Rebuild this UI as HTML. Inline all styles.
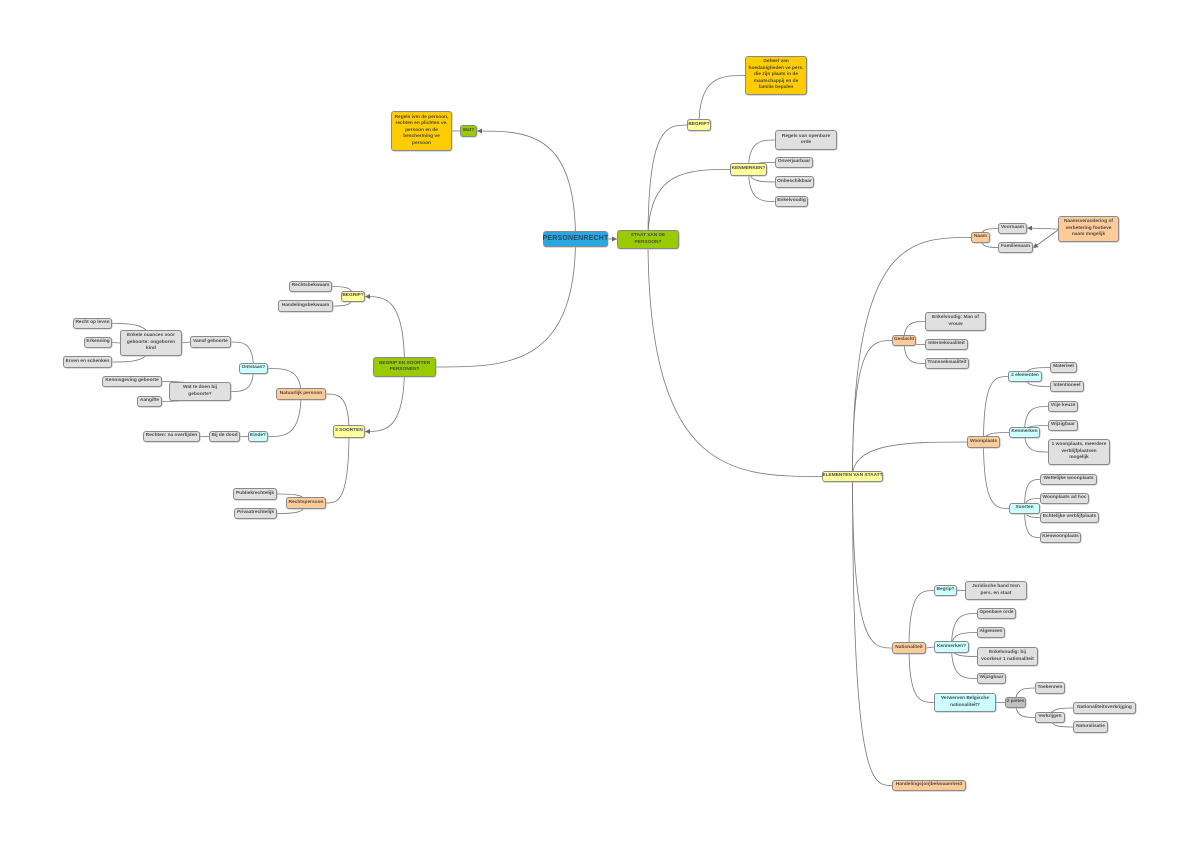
<!DOCTYPE html>
<html><head><meta charset="utf-8"><style>
html,body{margin:0;padding:0;background:#fff;}
#c{position:relative;width:1200px;height:848px;overflow:hidden;background:#fff;}
svg{position:absolute;left:0;top:0;}
.n{position:absolute;box-sizing:border-box;border:1px solid #8a8a8a;border-radius:3px;display:flex;align-items:center;justify-content:center;text-align:center;font-family:"Liberation Sans",sans-serif;font-weight:bold;font-size:4.8px;line-height:6.5px;color:#4a4a4a;background:#e0e0e0;padding:0 1px;box-shadow:0.5px 0.5px 0 #bbb;}
.one{white-space:nowrap;}
.b{background:#29a8e0;color:#2a4a6a;font-size:7px;letter-spacing:0.2px;}
.g{background:#99cc00;}
.o{background:#ffcc00;}
.y{background:#ffff99;}
.p{background:#ffcc99;}
.c{background:#ccffff;}
.d{background:#c0c0c0;}
</style></head><body><div id="c">
<svg width="1200" height="848" id="s"></svg>
<div id="nodes"></div>
</div>
<script>
var N={
PR:[543,231,65,16,"PERSONENRECHT","b"],
ST:[617,230,62,19,"STAAT VAN DE<br>PERSOON?","g"],
WAT:[460,125,17,12,"Wat?","g"],
REG:[391,111,61,40,"Regels ivm de persoon,<br>rechten en plichten ve.<br>persoon en de<br>bescherming ve<br>persoon","o"],
BG1:[687,119,24,12,"BEGRIP?","y"],
GEH:[745,56,62,39,"Geheel van<br>hoedanigheden ve pers.<br>die zijn plaats in de<br>maatschappij en de<br>familie bepalen","o"],
KEN:[730,163,37,13,"KENMERKEN?","y"],
K1:[775,130,62,20,"Regels van openbare<br>orde",""],
K2:[775,157,38,11,"Onverjaarbaar",""],
K3:[775,176,39,12,"Onbeschikbaar",""],
K4:[775,196,33,11,"Enkelvoudig",""],
BS:[373,357,63,20,"BEGRIP EN SOORTEN<br>PERSONEN?","g"],
BG2:[341,291,24,11,"BEGRIP?","y"],
RB:[289,281,43,11,"Rechtsbekwaam",""],
HB:[278,300,55,12,"Handelingsbekwaam",""],
SO:[333,425,32,13,"2 SOORTEN","y"],
NP:[276,388,50,12,"Natuurlijk persoon","p"],
RP:[286,497,40,12,"Rechtspersoon","p"],
PU:[233,488,44,12,"Publiekrechtelijk",""],
PV:[234,508,43,11,"Privaatrechtelijk",""],
ON:[239,363,29,11,"Ontstaan?","c"],
EI:[248,431,20,11,"Einde?","c"],
VG:[190,336,41,12,"Vanaf geboorte",""],
EN:[120,330,62,26,"Enkele nuances voor<br>geboorte: ongeboren<br>kind",""],
RL:[73,318,39,11,"Recht op leven",""],
ER:[84,337,28,11,"Erkenning",""],
ES:[63,356,49,12,"Erven en schenken",""],
WD:[169,382,62,19,"Wat te doen bij<br>geboorte?",""],
KG:[102,376,60,11,"Kennisgeving geboorte",""],
AG:[137,396,25,11,"Aangifte",""],
BD:[209,431,31,11,"Bij de dood",""],
RN:[143,431,57,11,"Rechten: na overlijden",""],
EL:[822,471,61,11,"ELEMENTEN VAN STAAT?","y"],
NA:[971,232,19,11,"Naam","p"],
VN:[998,223,29,11,"Voornaam",""],
FN:[998,242,35,11,"Familienaam",""],
NV:[1058,216,61,26,"Naamsverandering of<br>verbetering foutieve<br>naam mogelijk","p"],
GE:[892,335,24,11,"Geslacht","p"],
G1:[925,312,61,19,"Enkelvoudig: Man of<br>vrouw",""],
G2:[925,339,43,11,"Interseksualiteit",""],
G3:[925,358,44,11,"Transseksualiteit",""],
WO:[967,436,33,12,"Woonplaats","p"],
E2:[1008,371,34,11,"2 elementen","c"],
MA:[1050,362,27,11,"Materieel",""],
IN:[1050,381,34,11,"Intentioneel",""],
KM:[1009,427,31,11,"Kenmerken","c"],
VK:[1048,401,30,11,"Vrije keuze",""],
WZ:[1048,420,30,11,"Wijzigbaar",""],
W1:[1048,439,62,26,"1 woonplaats, meerdere<br>verblijfplaatsen<br>mogelijk",""],
SR:[1009,503,31,11,"Soorten","c"],
S1:[1040,474,57,11,"Wettelijke woonplaats",""],
S2:[1040,493,49,11,"Woonplaats ad hoc",""],
S3:[1040,512,59,11,"Echtelijke verblijfplaats",""],
S4:[1040,532,41,11,"Kieswoonplaats",""],
NT:[892,642,34,12,"Nationaliteit","p"],
BG3:[934,585,23,11,"Begrip?","c"],
JB:[965,581,62,19,"Juridische band tssn<br>pers. en staat",""],
KN:[934,641,35,12,"Kenmerken?","c"],
OO:[977,608,39,11,"Openbare orde",""],
AL:[977,627,28,11,"Algemeen",""],
EV:[977,647,61,19,"Enkelvoudig: bij<br>voorkeur 1 nationaliteit",""],
WJ:[977,673,29,11,"Wijzigbaar",""],
VB:[934,693,62,19,"Verwerven Belgische<br>nationaliteit?","c"],
PI:[1005,697,21,11,"2 pistes","d"],
TK:[1035,682,30,12,"Toekennen",""],
VR:[1035,712,30,11,"Verkrijgen",""],
NVK:[1073,702,63,12,"Nationaliteitsverkrijging",""],
NS:[1073,721,35,12,"Naturalisatie",""],
HO:[892,780,74,11,"Handelings(on)bekwaamheid","p"]
};
var E=[["PR","WAT"],["ST","BG1"],["ST","KEN"],["BG1","GEH"],["KEN","K1"],["KEN","K2"],["KEN","K3"],["KEN","K4"],["WAT","REG"],
["PR","BS"],["BS","BG2"],["BS","SO"],["BG2","RB"],["BG2","HB"],["SO","NP"],["SO","RP"],["RP","PU"],["RP","PV"],["NP","ON"],["NP","EI"],["ON","VG"],["ON","WD"],["VG","EN"],["EN","RL"],["EN","ER"],["EN","ES"],["WD","KG"],["WD","AG"],["EI","BD"],["BD","RN"],
["ST","EL"],["EL","NA"],["EL","GE"],["EL","WO"],["EL","NT"],["EL","HO"],["NA","VN"],["NA","FN"],["GE","G1"],["GE","G2"],["GE","G3"],["WO","E2"],["WO","KM"],["WO","SR"],["E2","MA"],["E2","IN"],["KM","VK"],["KM","WZ"],["KM","W1"],["SR","S1"],["SR","S2"],["SR","S3"],["SR","S4"],["NT","BG3"],["NT","KN"],["NT","VB"],["BG3","JB"],["KN","OO"],["KN","AL"],["KN","EV"],["KN","WJ"],["VB","PI"],["PI","TK"],["PI","VR"],["VR","NVK"],["VR","NS"]];
var h="";
for(var k in N){var a=N[k];var cl=a[4].indexOf("<br>")<0?" one":"";h+='<div class="n '+a[5]+cl+'" style="left:'+a[0]+'px;top:'+a[1]+'px;width:'+a[2]+'px;height:'+a[3]+'px">'+a[4]+'</div>';}
document.getElementById("nodes").innerHTML=h;
var p='<defs><marker id="ar" markerWidth="6" markerHeight="6" refX="5" refY="3" orient="auto" markerUnits="userSpaceOnUse"><path d="M0,0.5 L5,3 L0,5.5z" fill="#666"/></marker></defs>';
E.forEach(function(e){var A=N[e[0]],B=N[e[1]];
var sx=A[0]+A[2]/2,sy=A[1]+A[3]/2,cy=B[1]+B[3]/2,ex;
var right=B[0]>sx;
if(right){ex=B[0];}else{ex=B[0]+B[2];}
if(Math.abs(cy-sy)<4){sx=right?A[0]+A[2]:A[0];p+='<path d="M'+sx+','+sy+' L'+ex+','+cy+'" stroke="#777" stroke-width="0.8" fill="none"/>';return;}
var mk=((e[0]=="PR"&&e[1]=="WAT")||e[0]=="BS")?' marker-end="url(#ar)"':'';
p+='<path d="M'+sx+','+sy+' C'+sx+','+cy+' '+(sx+ex)/2+','+cy+' '+ex+','+cy+'" stroke="#777" stroke-width="0.8" fill="none"'+mk+'/>';});
p+='<path d="M608,239 L617,239" stroke="#777" stroke-width="0.8" marker-end="url(#ar)"/>';
p+='<path d="M1058,229 L1027,228" stroke="#777" stroke-width="0.8" marker-end="url(#ar)"/>';
p+='<path d="M1058,230 L1033,248" stroke="#777" stroke-width="0.8" marker-end="url(#ar)"/>';
document.getElementById("s").innerHTML=p;
</script>
</body></html>
